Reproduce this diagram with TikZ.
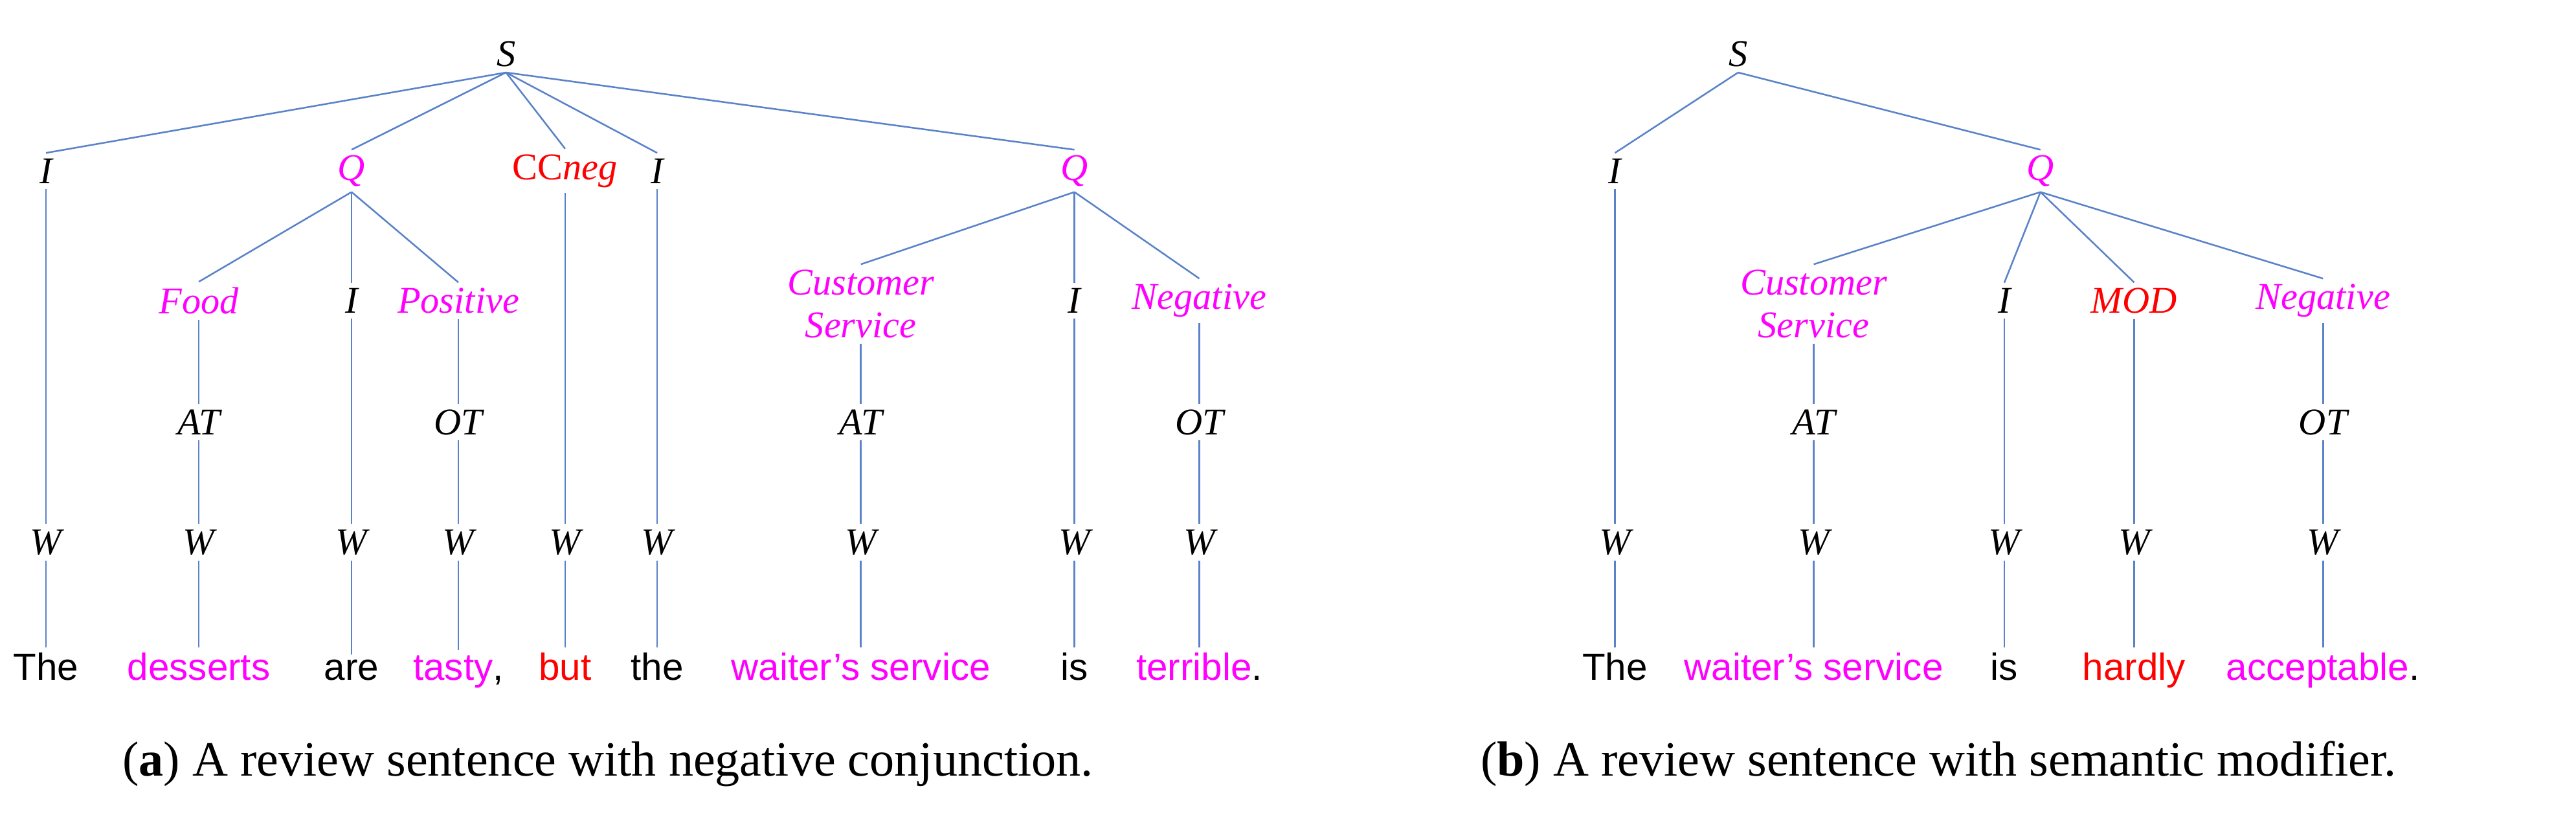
\documentclass[tikz,border=0pt]{standalone}
\usepackage{fontspec}
\setmainfont{Liberation Serif}
\newfontfamily\wordfont{Liberation Sans}
\definecolor{lnblue}{RGB}{90,130,200}
\definecolor{mag}{RGB}{255,0,255}
\definecolor{rdd}{RGB}{255,0,0}
\begin{document}
\begin{tikzpicture}[x=0.5pt,y=-0.5pt,
 lab/.style={font=\fontsize{11.5}{13}\selectfont\itshape,inner sep=1.5pt,align=center},
 mg/.style={text=mag},
 rd/.style={text=rdd},
 wd/.style={font=\wordfont\fontsize{11.5}{13}\selectfont,inner sep=1.5pt,anchor=base},
 e/.style={draw=lnblue,line width=0.5pt}]
\useasboundingbox (0,0) rectangle (1568,505);
% ---------- panel a
\node[lab] (S) at (308,33) {S};
\node[lab] (I1) at (28,104) {I};
\node[lab,mg] (Q1) at (214,104) {Q};
\node[lab,rd] (CC) at (344,104) {\upshape CC\itshape neg};
\node[lab] (I2) at (400,104) {I};
\node[lab,mg] (Q2) at (654,104) {Q};
\node[lab,mg] (F) at (121,183) {Food};
\node[lab] (I3) at (214,183) {I};
\node[lab,mg] (P) at (279,183) {Positive};
\node[lab,mg] (CS) at (524,185) {Customer\\Service};
\node[lab] (I4) at (654,183) {I};
\node[lab,mg] (N) at (730,183) {Negative};
\node[lab] (AT1) at (121,257) {AT};
\node[lab] (OT1) at (279,257) {OT};
\node[lab] (AT2) at (524,257) {AT};
\node[lab] (OT2) at (730,257) {OT};
\foreach \n/\x in {1/28,2/121,3/214,4/279,5/344,6/400,7/524,8/654,9/730}
  \node[lab] (W\n) at (\x,330) {W};
\node[wd] (t1) at (28,414) {The};
\node[wd,text=mag] (t2) at (121,414) {desserts};
\node[wd] (t3) at (214,414) {are};
\node[wd] (t4) at (279,414) {\textcolor{mag}{tasty},};
\node[wd,text=rdd] (t5) at (344,414) {but};
\node[wd] (t6) at (400,414) {the};
\node[wd,text=mag] (t7) at (524,414) {waiter’s service};
\node[wd] (t8) at (654,414) {is};
\node[wd] (t9) at (730,414) {\textcolor{mag}{terrible}.};
\foreach \c in {I1,Q1,CC,I2,Q2} \draw[e] (S.south) -- (\c.north);
\foreach \c in {F,I3,P} \draw[e] (Q1.south) -- (\c.north);
\foreach \c in {CS,I4,N} \draw[e] (Q2.south) -- (\c.north);
\draw[e] (I1) -- (W1); \draw[e] (F) -- (AT1); \draw[e] (AT1) -- (W2);
\draw[e] (I3) -- (W3); \draw[e] (P) -- (OT1); \draw[e] (OT1) -- (W4);
\draw[e] (CC) -- (W5); \draw[e] (I2) -- (W6); \draw[e] (CS) -- (AT2);
\draw[e] (AT2) -- (W7); \draw[e] (I4) -- (W8); \draw[e] (N) -- (OT2); \draw[e] (OT2) -- (W9);
\foreach \n in {1,...,9} \draw[e] (W\n.south) -- (t\n.north);
% ---------- panel b
\node[lab] (bS) at (1058,33) {S};
\node[lab] (bI1) at (983,104) {I};
\node[lab,mg] (bQ) at (1242,104) {Q};
\node[lab,mg] (bCS) at (1104,185) {Customer\\Service};
\node[lab] (bI2) at (1220,183) {I};
\node[lab,rd] (bM) at (1299,183) {MOD};
\node[lab,mg] (bN) at (1414,183) {Negative};
\node[lab] (bAT) at (1104,257) {AT};
\node[lab] (bOT) at (1414,257) {OT};
\foreach \n/\x in {1/983,2/1104,3/1220,4/1299,5/1414}
  \node[lab] (bW\n) at (\x,330) {W};
\node[wd] (bt1) at (983,414) {The};
\node[wd,text=mag] (bt2) at (1104,414) {waiter’s service};
\node[wd] (bt3) at (1220,414) {is};
\node[wd,text=rdd] (bt4) at (1299,414) {hardly};
\node[wd] (bt5) at (1414,414) {\textcolor{mag}{acceptable}.};
\foreach \c in {bI1,bQ} \draw[e] (bS.south) -- (\c.north);
\foreach \c in {bCS,bI2,bM,bN} \draw[e] (bQ.south) -- (\c.north);
\draw[e] (bI1) -- (bW1); \draw[e] (bCS) -- (bAT); \draw[e] (bAT) -- (bW2);
\draw[e] (bI2) -- (bW3); \draw[e] (bM) -- (bW4); \draw[e] (bN) -- (bOT); \draw[e] (bOT) -- (bW5);
\foreach \n in {1,...,5} \draw[e] (bW\n.south) -- (bt\n.north);
% captions
\node[font=\fontsize{15}{18}\selectfont] (ca) at (370,465) {(\textbf{a}) A review sentence with negative conjunction.};
\node[font=\fontsize{15}{18}\selectfont] (cb) at (1180,465) {(\textbf{b}) A review sentence with semantic modifier.};
\end{tikzpicture}
\end{document}
